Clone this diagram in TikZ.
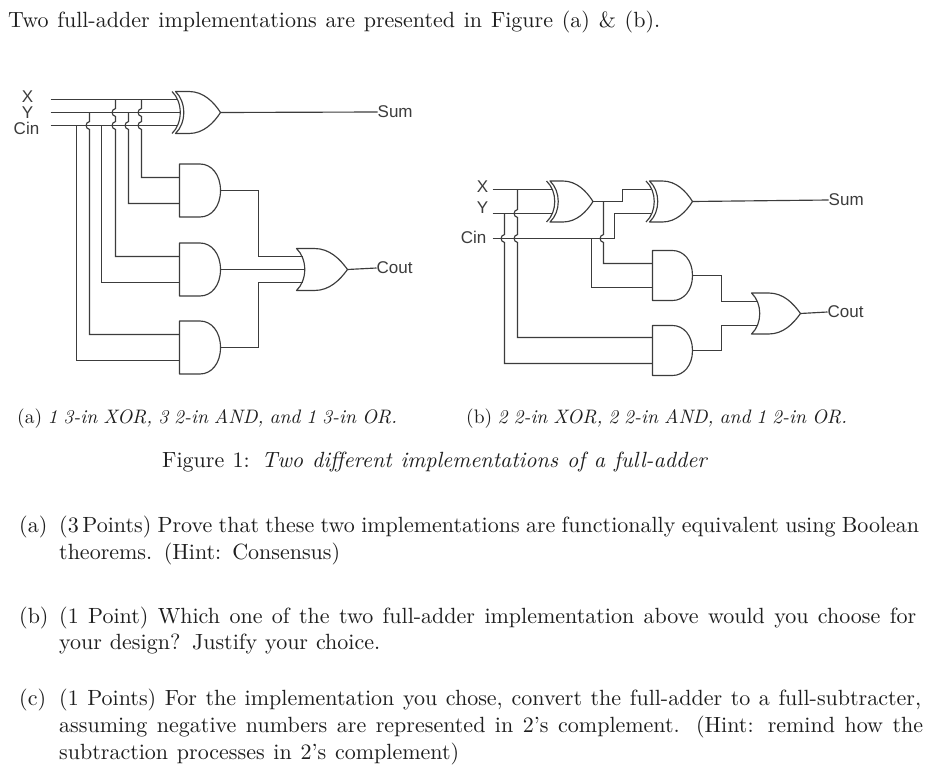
\documentclass[tikz,border=0pt]{standalone}
\usepackage{fontspec}
\usepackage{graphicx}
\newfontfamily\lab{Liberation Sans}
\definecolor{wire}{HTML}{3C3C3C}
\definecolor{ink}{HTML}{1E1E1E}
\newcommand\hop[2]{-- (#1,#2-4) .. controls (#1-4.5,#2-3) and (#1-4.5,#2+3) .. (#1,#2+4)}
% body text: 10pt design size scaled 2.2 ; captions scaled 1.95
\newcommand\txtline[2]{\scalebox{2.2}{\fontsize{10}{12}\selectfont\makebox[\dimexpr #1*10/22\relax][s]{#2}}}
\newcommand\capline[2]{\scalebox{1.95}{\fontsize{10}{12}\selectfont\makebox[\dimexpr #1*100/195\relax][s]{#2}}}
\tikzset{
  wirepath/.style={draw=wire,line width=1.15pt,line join=miter},
  gatepath/.style={draw=wire,line width=1.15pt,fill=white,line join=round},
  pinlabel/.style={font=\lab\fontsize{17}{17}\selectfont,text=wire,inner sep=0pt},
  body/.style={text=ink,inner sep=0pt,anchor=base west},
  pics/andgate/.style n args={3}{code={
    \path[gatepath] (0,-#2) -- (0.5*#1,-#2) .. controls (0.78*#1,-#2) and (#1,-0.6*#2) .. (#1,0)
      .. controls (#1,0.6*#2) and (0.78*#1,#2) .. (0.5*#1,#2) -- (0,#2) -- cycle;
    \coordinate (-a) at (0,-#3); \coordinate (-b) at (0,#3); \coordinate (-out) at (#1,0);
  }},
  pics/orgate/.style n args={3}{code={
    \path[gatepath] (0,-#2) -- (0.35*#1,-#2) .. controls (0.65*#1,-#2) and (0.85*#1,-0.5*#2) .. (#1,0)
      .. controls (0.85*#1,0.5*#2) and (0.65*#1,#2) .. (0.35*#1,#2) -- (0,#2)
      .. controls (11,0.5*#2) and (11,-0.5*#2) .. (0,-#2) -- cycle;
    \coordinate (-a) at (6.5,-#3); \coordinate (-m) at (8.5,0); \coordinate (-b) at (6.5,#3); \coordinate (-out) at (#1,0);
  }},
  pics/xorgate/.style n args={3}{code={
    \path[gatepath] (0,-#2) -- (0.3*#1,-#2) .. controls (0.62*#1,-#2) and (0.85*#1,-0.5*#2) .. (#1,0)
      .. controls (0.85*#1,0.5*#2) and (0.62*#1,#2) .. (0.3*#1,#2) -- (0,#2)
      .. controls (11,0.5*#2) and (11,-0.5*#2) .. (0,-#2) -- cycle;
    \path[draw=wire,line width=1.15pt] (-3.5,-#2) .. controls (7.5,-0.5*#2) and (7.5,0.5*#2) .. (-3.5,#2);
    \coordinate (-a) at (1.5,-#3); \coordinate (-m) at (4.5,0); \coordinate (-b) at (1.5,#3); \coordinate (-out) at (#1,0);
  }},
}
\begin{document}
\begin{tikzpicture}[x=1pt,y=-1pt]
\useasboundingbox (0,0) rectangle (932,768);
\fill[white] (0,0) rectangle (932,768);

% ---------- texts
\node[body] (title) at (8,28) {\txtline{652pt}{Two full-adder implementations are presented in Figure (a) \& (b).}};
\node[body] (capa) at (17,423) {\capline{380pt}{(a) \textit{1 3-in XOR, 3 2-in AND, and 1 3-in OR.}}};
\node[body] (capb) at (466,423) {\capline{381pt}{(b) \textit{2 2-in XOR, 2 2-in AND, and 1 2-in OR.}}};
\node[body] (figcap) at (162,467) {\txtline{546pt}{Figure 1: \textit{Two different implementations of a full-adder}}};
\node[body] (qal) at (19,532) {\txtline{27pt}{(a)}};
\node[body] (qa1) at (59,532) {\txtline{860pt}{(3\,Points) Prove that these two implementations are functionally equivalent using Boolean}};
\node[body] (qa2) at (59,559) {\txtline{281pt}{theorems. (Hint: Consensus)}};
\node[body] (qbl) at (19,623) {\txtline{27pt}{(b)}};
\node[body] (qb1) at (59,623) {\txtline{857pt}{(1 Point) Which one of the two full-adder implementation above would you choose for}};
\node[body] (qb2) at (59,649) {\txtline{321pt}{your design? Justify your choice.}};
\node[body] (qcl) at (19,705) {\txtline{27pt}{(c)}};
\node[body] (qc1) at (59,705) {\txtline{862pt}{(1 Points) For the implementation you chose, convert the full-adder to a full-subtracter,}};
\node[body] (qc2) at (59,732) {\txtline{864pt}{assuming negative numbers are represented in 2's complement. (Hint: remind how the}};
\node[body] (qc3) at (59,759) {\txtline{400pt}{subtraction processes in 2's complement)}};

\begin{scope}[shift={(0.5,0.5)}]
% ---------- circuit (a): gates first, wires end on their pins
\node[pinlabel] (lax) at (27,96.5) {X};
\node[pinlabel] (lay) at (27,112.5) {Y};
\node[pinlabel] (lac) at (26,127.5) {Cin};
\node[pinlabel,anchor=west] (lasum) at (377,111.5) {Sum};
\node[pinlabel,anchor=west] (lacout) at (376,267.5) {Cout};
\coordinate (ax) at (50,99);
\coordinate (ay) at (50,112);
\coordinate (ac) at (50,125);
\coordinate (at1) at (76,125);
\coordinate (at2) at (89,112);
\coordinate (at3) at (101,125);
\coordinate (at4) at (115,99);
\coordinate (at5) at (128,112);
\coordinate (at6) at (141,99);
\coordinate (ajt) at (258,190);
\coordinate (ajb) at (258,347);

\pic (ax3) at (175,112) {xorgate={45}{21}{13}};
\pic (aa1) at (179,190) {andgate={41}{26.5}{13}};
\pic (aa2) at (179,269) {andgate={41}{26.5}{13}};
\pic (aa3) at (179,347) {andgate={41}{26.5}{13}};
\pic (ao) at (296,269) {orgate={51}{21}{13}};

\draw[wirepath] (ax) -- (ax3-a);
\draw[wirepath] (ay) -- (ax3-m);
\draw[wirepath] (ac) -- (ax3-b);
\draw[wirepath] (ax3-out) -- (lasum.west);
\draw[wirepath] (at1) |- (aa3-b);
\draw[wirepath] (at2) \hop{89}{125} |- (aa3-a);
\draw[wirepath] (at3) |- (aa2-b);
\draw[wirepath] (at4) \hop{115}{112} \hop{115}{125} |- (aa2-a);
\draw[wirepath] (at5) \hop{128}{125} |- (aa1-b);
\draw[wirepath] (at6) \hop{141}{112} \hop{141}{125} |- (aa1-a);
\draw[wirepath] (aa1-out) -| (ajt) |- (ao-a);
\draw[wirepath] (aa2-out) -- (ao-m);
\draw[wirepath] (aa3-out) -| (ajb) |- (ao-b);
\draw[wirepath] (ao-out) -- (lacout.west);

% ---------- circuit (b)
\node[pinlabel] (lbx) at (482,186.5) {X};
\node[pinlabel] (lby) at (482,207.5) {Y};
\node[pinlabel] (lbc) at (473,236.5) {Cin};
\node[pinlabel,anchor=west] (lbsum) at (828,199.5) {Sum};
\node[pinlabel,anchor=west] (lbcout) at (827,311.5) {Cout};
\coordinate (bx) at (492,189);
\coordinate (by) at (492,213);
\coordinate (bc) at (492,238);
\coordinate (bt1) at (504,213);
\coordinate (bt2) at (517,189);
\coordinate (bt3) at (591,238);
\coordinate (bt4) at (603,201);
\coordinate (bj1) at (622,201);
\coordinate (bj2) at (614,238);
\coordinate (bjt) at (721,275);
\coordinate (bjb) at (721,350);

\pic (bx1) at (549.5,201) {xorgate={43}{20.5}{12}};
\pic (bx2) at (649,201) {xorgate={43}{20.5}{12}};
\pic (ba1) at (652,275) {andgate={40}{25}{12}};
\pic (ba2) at (652,350) {andgate={40}{25}{13}};
\pic (bo) at (751,313) {orgate={49}{20.5}{12}};

\draw[wirepath] (bx) -- (bx1-a);
\draw[wirepath] (by) -- (bx1-b);
\draw[wirepath] (bc) -- (bj2) |- (bx2-b);
\draw[wirepath] (bx1-out) -- (bj1) |- (bx2-a);
\draw[wirepath] (bx2-out) -- (lbsum.west);
\draw[wirepath] (bt1) \hop{504}{238} |- (ba2-b);
\draw[wirepath] (bt2) \hop{517}{213} \hop{517}{238} |- (ba2-a);
\draw[wirepath] (bt3) |- (ba1-b);
\draw[wirepath] (bt4) \hop{603}{238} |- (ba1-a);
\draw[wirepath] (ba1-out) -| (bjt) |- (bo-a);
\draw[wirepath] (ba2-out) -| (bjb) |- (bo-b);
\draw[wirepath] (bo-out) -- (lbcout.west);
\end{scope}
\end{tikzpicture}
\end{document}
